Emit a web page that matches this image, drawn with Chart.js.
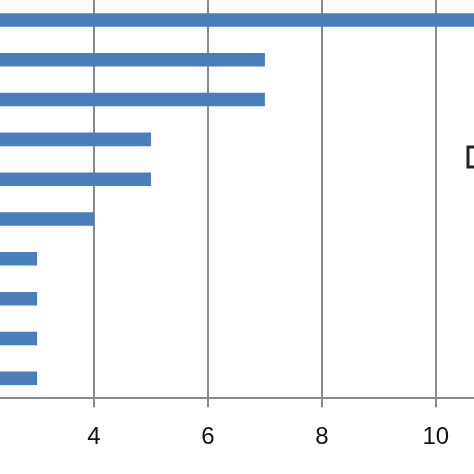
<!DOCTYPE html>
<html><head><meta charset="utf-8">
<script src="https://cdn.jsdelivr.net/npm/chart.js@4/dist/chart.umd.min.js"></script>
<style>html,body{margin:0;padding:0;background:#fff}#wrap{width:474px;height:474px}</style>
</head><body><div id="wrap"><canvas id="c"></canvas></div>
<script>
const categories = ["A", "B", "C", "D", "E", "F", "G", "H", "I", "J"];
const values = [11, 7, 7, 5, 5, 4, 3, 3, 3, 3];
const tickValues = [4, 6, 8, 10];

const legendStub = {
  id: "legendStub",
  afterDraw(chart) {
    const ctx = chart.ctx;
    ctx.save();
    ctx.strokeStyle = "#222";
    ctx.lineWidth = 3;
    ctx.strokeRect(468, 147, 10, 20);
    ctx.restore();
  }
};

new Chart(document.getElementById("c"), {
  type: "bar",
  data: {
    labels: categories,
    datasets: [{ data: values, backgroundColor: "#4a7ebb", barPercentage: 0.34, categoryPercentage: 1 }]
  },
  options: {
    indexAxis: "y",
    responsive: true,
    maintainAspectRatio: false,
    animation: false,
    layout: { padding: { left: 0, right: 0, top: 0, bottom: 6 } },
    plugins: { legend: { display: false }, tooltip: { enabled: false } },
    scales: {
      y: { display: false },
      x: {
        min: 2.35, max: 10.67,
        afterBuildTicks(s) { s.ticks = tickValues.map(v => ({ value: v })); },
        grid: { color: "#8c8c8c", lineWidth: 2, tickLength: 9 },
        border: { color: "#8c8c8c", width: 2 },
        ticks: { color: "#111", font: { family: "Liberation Sans", size: 24 }, padding: 16, maxRotation: 0 }
      }
    }
  },
  plugins: [legendStub]
});
</script></body></html>
